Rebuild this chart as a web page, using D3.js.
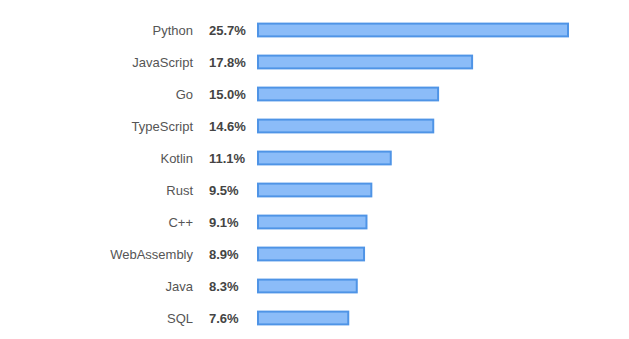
<!DOCTYPE html>
<html>
<head>
<meta charset="utf-8">
<script src="https://cdn.jsdelivr.net/npm/d3@7"></script>
<style>
  html, body { margin: 0; padding: 0; background: #fff; }
  svg { display: block; }
</style>
</head>
<body>
<svg id="chart" width="629" height="339"></svg>
<script>
// Languages and their share (percent)
const languages = ["Python", "JavaScript", "Go", "TypeScript", "Kotlin", "Rust", "C++", "WebAssembly", "Java", "SQL"];
const shares = [25.7, 17.8, 15.0, 14.6, 11.1, 9.5, 9.1, 8.9, 8.3, 7.6];

const svg = d3.select("#chart");
const rows = languages.map((name, i) => ({ name, value: shares[i] }));

const barLeft = 257;
const x = d3.scaleLinear().domain([0, 25.7]).range([barLeft, 569]);
const y = d3.scaleBand().domain(languages).range([14, 334]).paddingInner(0.6).paddingOuter(0.3);

const g = svg.append("g");

const row = g.selectAll("g.row").data(rows).join("g").attr("class", "row");

row.append("rect")
  .attr("x", x(0) + 1)
  .attr("y", d => y(d.name))
  .attr("width", d => x(d.value) - x(0) - 2)
  .attr("height", y.bandwidth())
  .attr("fill", "#8bbcf8")
  .attr("stroke", "#4f94e6")
  .attr("stroke-width", 2);

row.append("text")
  .attr("x", 193)
  .attr("y", d => y(d.name) + y.bandwidth() / 2)
  .attr("dy", "0.35em")
  .attr("text-anchor", "end")
  .attr("font-family", "Liberation Sans, Arial, sans-serif")
  .attr("font-size", 13)
  .attr("fill", "#555")
  .text(d => d.name);

row.append("text")
  .attr("x", 209)
  .attr("y", d => y(d.name) + y.bandwidth() / 2)
  .attr("dy", "0.35em")
  .attr("text-anchor", "start")
  .attr("font-family", "Liberation Sans, Arial, sans-serif")
  .attr("font-size", 13)
  .attr("font-weight", "bold")
  .attr("fill", "#444")
  .text(d => d.value.toFixed(1) + "%");
</script>
</body>
</html>
